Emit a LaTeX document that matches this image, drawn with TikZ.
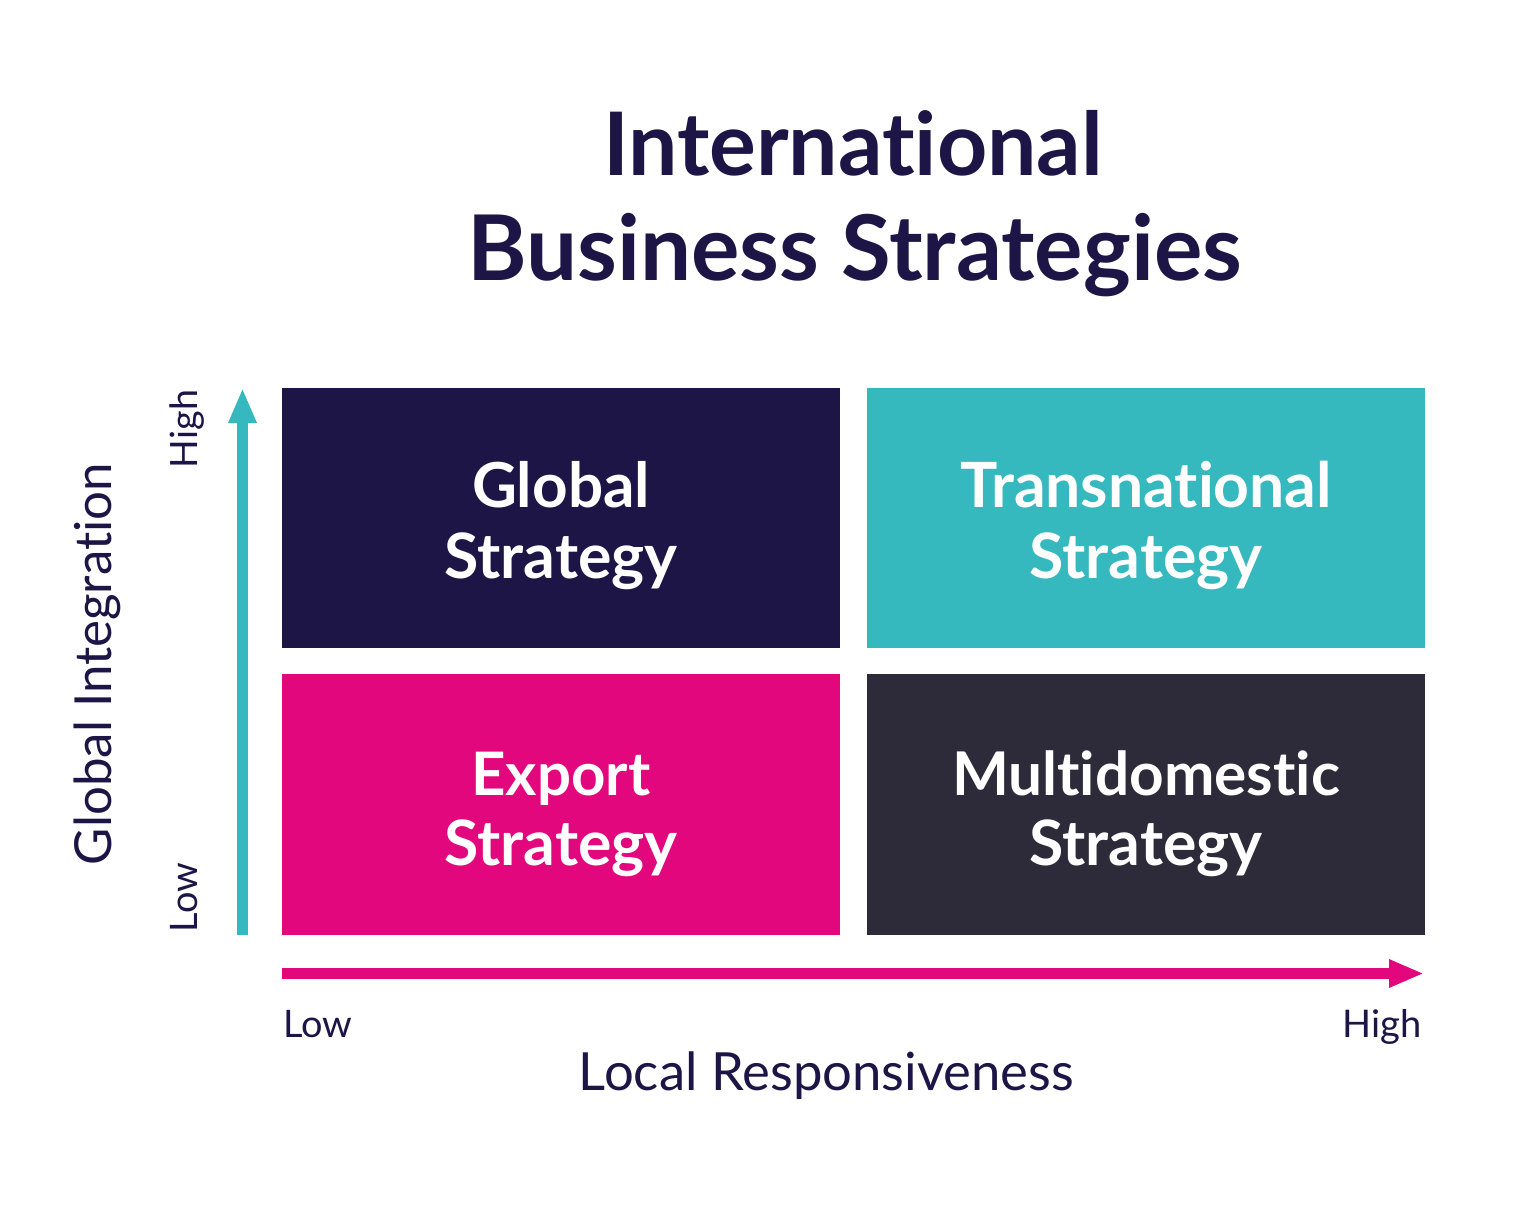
\documentclass[tikz,border=0pt]{standalone}
\usepackage{fontspec}
\setmainfont{Lato}[Ligatures={NoCommon,NoContextual}]
\usetikzlibrary{arrows.meta}
\definecolor{navy}{HTML}{1E1547}
\definecolor{teal}{HTML}{35B8BE}
\definecolor{magenta}{HTML}{E2077D}
\definecolor{darkgrey}{HTML}{2D2B3A}
\newcommand{\fitw}[2]{\resizebox{#1pt}{!}{#2}}
\tikzset{
  boxtxt/.style={anchor=base, inner sep=0pt, text=white, font=\bfseries\fontsize{58}{60}\selectfont},
  ttl/.style={anchor=base, inner sep=0pt, text=navy, font=\bfseries\fontsize{80}{90}\selectfont},
  axlbl/.style={anchor=base, inner sep=0pt, text=navy, font=\fontsize{36}{40}\selectfont},
  ticklbl/.style={anchor=base, inner sep=0pt, text=navy, font=\fontsize{30}{34}\selectfont},
  axarrow/.style={line width=11pt, -{Triangle[length=35pt,width=26pt]}}
}
\begin{document}
\begin{tikzpicture}[x=1pt,y=-1pt]
\useasboundingbox (0,0) rectangle (1536,1207);
\fill[white] (0,0) rectangle (1536,1207);
% title
\node[ttl] (t1) at (853,175) {\fitw{500}{International}};
\node[ttl] (t2) at (854.5,280) {\fitw{775}{Business Strategies}};
% quadrants
\fill[navy] (282,388) rectangle (840,648);
\fill[teal] (867,388) rectangle (1425,648);
\fill[magenta] (282,674) rectangle (840,935);
\fill[darkgrey] (867,674) rectangle (1425,935);
% box texts
\node[boxtxt] (g1) at (561,507) {\fitw{178}{Global}};
\node[boxtxt] (g2) at (561,578) {\fitw{233}{Strategy}};
\node[boxtxt] (tr1) at (1146,507) {\fitw{372}{Transnational}};
\node[boxtxt] (tr2) at (1146,578) {\fitw{233}{Strategy}};
\node[boxtxt] (e1) at (561,795) {\fitw{179}{Export}};
\node[boxtxt] (e2) at (561,865) {\fitw{233}{Strategy}};
\node[boxtxt] (m1) at (1146,795) {\fitw{388}{Multidomestic}};
\node[boxtxt] (m2) at (1146,865) {\fitw{233}{Strategy}};
% axes
\coordinate (vs) at (242.5,935);
\coordinate (ve) at (242.5,388);
\coordinate (hs) at (282,973.5);
\coordinate (he) at (1424,973.5);
\draw[axarrow, teal] (vs) -- (ve);
\draw[axarrow, magenta] (hs) -- (he);
% axis labels
\node[axlbl, rotate=90] (gi) at (111,664) {\fitw{402}{Global Integration}};
\node[ticklbl, rotate=90] (vh) at (197,429) {\fitw{78}{High}};
\node[ticklbl, rotate=90] (vl) at (197,897.5) {\fitw{69}{Low}};
\node[axlbl] (lr) at (826.5,1090) {\fitw{495}{Local Responsiveness}};
\node[ticklbl, anchor=base west] (hl) at (283,1037) {\fitw{69}{Low}};
\node[ticklbl, anchor=base east] (hh) at (1422,1037) {\fitw{79}{High}};
\end{tikzpicture}
\end{document}
